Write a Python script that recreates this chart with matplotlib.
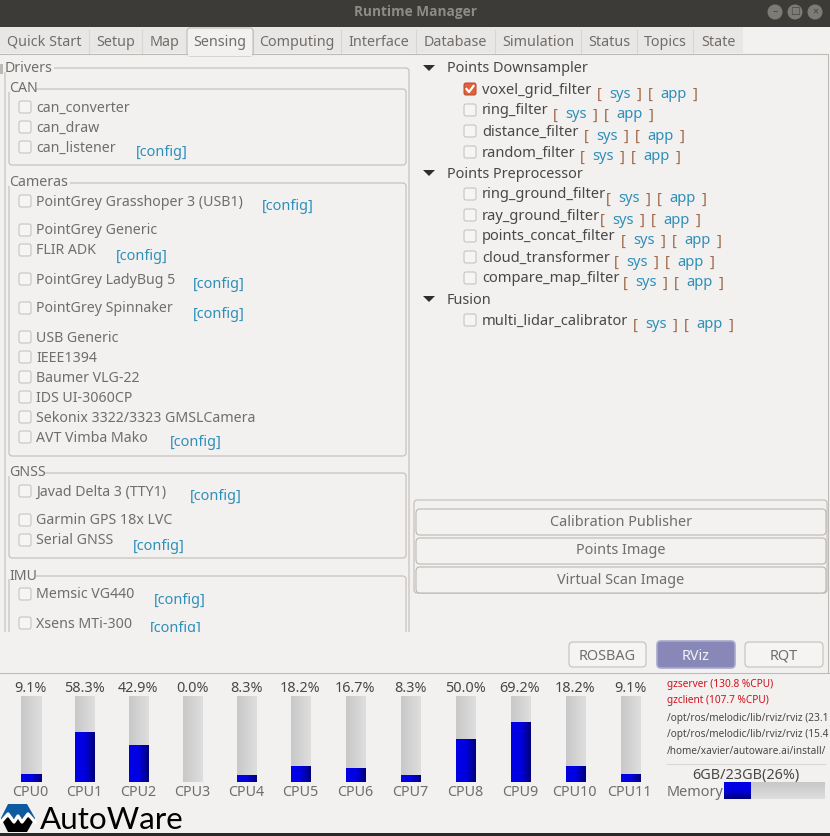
import matplotlib
matplotlib.use('Agg')
import matplotlib.pyplot as plt
from matplotlib.patches import FancyBboxPatch, Rectangle, Polygon, Circle
import numpy as np

W, H = 830, 836
plt.rcParams['font.family'] = ['Noto Sans', 'DejaVu Sans']

BG = '#f2f1f0'
LINE = '#bdb9b5'
GREY = '#716d6a'
DARK = '#4a4846'
BLUE = '#2e8fb8'
BROWN = '#a0694a'

tab_names = ['Quick Start', 'Setup', 'Map', 'Sensing', 'Computing', 'Interface',
             'Database', 'Simulation', 'Status', 'Topics', 'State']
tab_edges = [0, 89, 142, 187, 253, 341, 416, 495, 581, 637, 693, 743]

# label, row y, config x (None if no link)
can_items = [('can_converter', 107, None), ('can_draw', 127, None), ('can_listener', 147, 136)]
camera_items = [('PointGrey Grasshoper 3 (USB1)', 201, 262), ('PointGrey Generic', 230, None),
                ('FLIR ADK', 250, 116), ('PointGrey LadyBug 5', 279, 193),
                ('PointGrey Spinnaker', 308, 193), ('USB Generic', 337, None),
                ('IEEE1394', 357, None), ('Baumer VLG-22', 377, None),
                ('IDS UI-3060CP', 397, None), ('Sekonix 3322/3323 GMSLCamera', 417, None),
                ('AVT Vimba Mako', 437, 170)]
gnss_items = [('Javad Delta 3 (TTY1)', 491, 190), ('Garmin GPS 18x LVC', 520, None),
              ('Serial GNSS', 540, 133)]
imu_items = [('Memsic VG440', 594, 154), ('Xsens MTi-300', 623, 150)]

# label, row y, x of the first bracket
filter_items = [('voxel_grid_filter', 89, 597), ('ring_filter', 110, 553),
                ('distance_filter', 131, 584), ('random_filter', 152, 580),
                ('ring_ground_filter', 194, 606), ('ray_ground_filter', 215, 600),
                ('points_concat_filter', 236, 621), ('cloud_transformer', 257, 614),
                ('compare_map_filter', 278, 623), ('multi_lidar_calibrator', 320, 633)]
tree_heads = [('Points Downsampler', 68), ('Points Preprocessor', 173), ('Fusion', 299)]

cpu_names = ['CPU0', 'CPU1', 'CPU2', 'CPU3', 'CPU4', 'CPU5', 'CPU6', 'CPU7', 'CPU8', 'CPU9', 'CPU10', 'CPU11']
cpu_values = [9.1, 58.3, 42.9, 0.0, 8.3, 18.2, 16.7, 8.3, 50.0, 69.2, 18.2, 9.1]
cpu_x = [31, 85, 139, 193, 247, 301, 356, 411, 466, 521, 576, 631]
memory_value = 26
memory_text = '6GB/23GB(26%)'

proc_lines = ['gzserver (130.8 %CPU)', 'gzclient (107.7 %CPU)',
              '/opt/ros/melodic/lib/rviz/rviz (23.1',
              '/opt/ros/melodic/lib/rviz/rviz (15.4',
              '/home/xavier/autoware.ai/install/']
proc_colors = ['#d0101c', '#d0101c', DARK, DARK, DARK]

fig = plt.figure(figsize=(W / 100, H / 100), dpi=100, facecolor=BG)
ax = fig.add_axes([0, 0, 1, 1])
ax.set_xlim(0, W)
ax.set_ylim(H, 0)
ax.axis('off')


def label(x, y, s, size=10.4, color=GREY, ha='left', z=3, **kw):
    return ax.text(x, y + 2, s, fontsize=size, color=color, ha=ha, va='center', zorder=z, **kw)


def box(x0, y0, x1, y1, fc='none', ec=LINE, lw=0.75, r=3, z=2):
    p = FancyBboxPatch((x0 + r, y0 + r), x1 - x0 - 2 * r, y1 - y0 - 2 * r,
                       boxstyle='round,pad=%d,rounding_size=%d' % (r, r),
                       fc=fc, ec=ec, lw=lw, zorder=z)
    ax.add_patch(p)


def checkbox(x, y, checked=False):
    if checked:
        box(x, y - 6, x + 12, y + 6, fc='#e2603a', ec='#b84f30', r=2)
        ax.plot([x + 2.5, x + 5, x + 9.5], [y, y + 3, y - 3], color='white', lw=1.6, zorder=3)
    else:
        box(x, y - 6, x + 12, y + 6, fc='#f6f5f4', ec='#c4c0bc', r=2)


def group(title, x0, y0, x1, y1, title_x):
    box(x0, y0, x1, y1)
    ax.add_patch(Rectangle((title_x - 1, y0 - 3), len(title) * 8.6 + 2, 6, fc=BG, ec='none', zorder=2.5))
    label(title_x, y0 - 2, title, size=10.2)


def rows(items):
    for name, y, cfg in items:
        checkbox(19, y)
        label(36, y - 1, name, size=10.2)
        if cfg is not None:
            label(cfg, y + 4, '[config]', color=BLUE)


# title bar
ax.add_patch(Rectangle((0, 0), W, 27, fc='#3c3b37', ec='none', zorder=1))
label(415, 10, 'Runtime Manager', size=9.8, color='#8f8c86', ha='center', fontweight='bold', family='Open Sans')
for cx, mark in zip([775, 795, 815], ['–', '□', '×']):
    ax.add_patch(Circle((cx, 12), 7.5, fc='#7d7b76', ec='none', zorder=2))
    label(cx, 9.5, mark, size=7.5, color='#45443f', ha='center')

# tabs
ax.plot([0, 828, 828], [54, 54, 673], color=LINE, lw=0.75, zorder=1)
ax.plot([0, W], [673, 673], color=LINE, lw=0.75, zorder=1)
ax.add_patch(Rectangle((0, 27), 743, 26, fc='#e9e7e5', ec='none', zorder=1))
for i, name in enumerate(tab_names):
    x0, x1 = tab_edges[i], tab_edges[i + 1]
    if name == 'Sensing':
        box(x0, 28, x1, 56, fc=BG, ec=LINE, r=3, z=1.5)
        ax.add_patch(Rectangle((x0 + 1, 50), x1 - x0 - 2, 6, fc=BG, ec='none', zorder=1.6))
    elif i > 0:
        ax.plot([x0, x0], [30, 53], color='#d8d5d2', lw=0.75, zorder=1.2)
    label((x0 + x1) / 2, 40, name, size=10.3, ha='center')

# left pane
box(5, 68, 409, 660, z=1.5)
ax.add_patch(Rectangle((4, 64), 50, 8, fc=BG, ec='none', zorder=1.6))
label(5, 67, 'Drivers', size=10.2)
ax.add_patch(Rectangle((0, 64), 3, 10, fc='#bdb9b5', ec='none', zorder=2))
group('CAN', 9, 89, 406, 165, 9)
group('Cameras', 9, 183, 406, 456, 9)
group('GNSS', 9, 473, 406, 558, 9)
group('IMU', 9, 576, 406, 660, 9)
for items in [can_items, camera_items, gnss_items, imu_items]:
    rows(items)
ax.add_patch(Rectangle((0, 632), 827, 40, fc=BG, ec='none', zorder=4))

# right pane tree
for name, y in tree_heads:
    ax.add_patch(Polygon([(423, y - 3), (435, y - 3), (429, y + 3)], fc='#2e2e2e', ec='none', zorder=3))
    label(447, y - 1, name, color=DARK)
for i, (name, y, bx) in enumerate(filter_items):
    checkbox(464, y, checked=(i == 0))
    label(482, y - 1, name, color=DARK, size=10.55)
    label(bx, y + 3, '[', color=BROWN, size=10.6)
    label(bx + 12, y + 3, 'sys', color=BLUE, size=10.6)
    label(bx + 40, y + 3, ']', color=BROWN, size=10.6)
    label(bx + 51, y + 3, '[', color=BROWN, size=10.6)
    label(bx + 63, y + 3, 'app', color=BLUE, size=10.6)
    label(bx + 96, y + 3, ']', color=BROWN, size=10.6)

# sensing buttons
box(414, 500, 827, 593)
for name, y0 in zip(['Calibration Publisher', 'Points Image', 'Virtual Scan Image'], [509, 538, 567]):
    box(416, y0, 826, y0 + 26, fc='#f3f2f1', ec='#b8b4b0', r=4, z=2.2)
    label(621, y0 + 11, name, ha='center', z=3)

# bottom buttons
for name, x0, x1 in [('ROSBAG', 569, 646), ('RQT', 745, 823)]:
    box(x0, 642, x1, 667, fc='#f5f4f3', ec='#c0bcb8', r=4, z=5)
    label((x0 + x1) / 2, 654, name, ha='center', z=6)
box(657, 641, 735, 668, fc='#8888b8', ec='#a9a9cc', lw=1.2, r=4, z=5)
label(696, 654, 'RViz', color='#f2f2f6', ha='center', z=6)

# cpu bars
cpu_ax = fig.add_axes([0, (H - 782) / H, 1, 86.5 / H])
cpu_ax.set_xlim(0, W)
cpu_ax.set_ylim(0, 100)
cpu_ax.axis('off')
cpu_ax.patch.set_alpha(0)
track_grad = np.linspace(0, 1, 32).reshape(1, -1)
track_cmap = matplotlib.colors.LinearSegmentedColormap.from_list('t', ['#c8c8c8', '#dedede'])
blue_cmap = matplotlib.colors.LinearSegmentedColormap.from_list('b', ['#0000e6', '#0000e0', '#00007a'])


def fill_bars(a, bars, cmap, grad):
    # gradient fill clipped to each bar
    for bar in bars:
        bx, by = bar.get_xy()
        bw, bh = bar.get_width(), bar.get_height()
        if bw == 0 or bh == 0:
            continue
        im = a.imshow(grad, extent=(bx, bx + bw, by, by + bh), aspect='auto', cmap=cmap, zorder=bar.get_zorder() + 0.5)
        im.set_clip_path(bar)


track_bars = cpu_ax.bar(cpu_x, [100] * 12, width=20, color='#d4d4d4', zorder=1)
value_bars = cpu_ax.bar(cpu_x, cpu_values, width=20, color='#0000c0', zorder=2)
fill_bars(cpu_ax, track_bars, track_cmap, track_grad)
fill_bars(cpu_ax, value_bars, blue_cmap, track_grad)
cpu_ax.set_xlim(0, W)
cpu_ax.set_ylim(0, 100)

for x, v, name in zip(cpu_x, cpu_values, cpu_names):
    label(x - 1, 686, '%.1f%%' % v, color=DARK, ha='center')
    label(x - 1 if len(name) == 4 else x - 2, 790, name, size=10.3, ha='center')

# process list
for i, (s, c) in enumerate(zip(proc_lines, proc_colors)):
    label(667, 682 + 17 * i, s, size=7.25, color=c)
ax.plot([667, 825], [764, 764], color='#d8d5d2', lw=0.75, zorder=2)
label(746, 773, memory_text, color=DARK, ha='center')
label(667, 790, 'Memory')

# memory bar
mem_ax = fig.add_axes([724 / W, (H - 799) / H, 101 / W, 17 / H])
mem_ax.set_xlim(0, 100)
mem_ax.set_ylim(0, 1)
mem_ax.axis('off')
mem_track = mem_ax.barh([0.5], [100], height=1, color='#d4d4d4', zorder=1)
mem_val = mem_ax.barh([0.5], [memory_value], height=1, color='#0000c0', zorder=2)
vert = np.linspace(0, 1, 32).reshape(-1, 1)
fill_bars(mem_ax, mem_track, track_cmap, vert)
fill_bars(mem_ax, mem_val, blue_cmap, vert)
mem_ax.set_xlim(0, 100)
mem_ax.set_ylim(0, 1)

# logo
ax.add_patch(Polygon([(1, 818), (8, 804), (27, 804), (35, 818)], fc='#0b5b9e', ec='none', zorder=3))
ax.add_patch(Polygon([(1, 818), (35, 818), (27, 832), (8, 832)], fc='#000000', ec='none', zorder=3))
ax.plot([1, 8, 14, 18, 22, 28, 35], [822, 814, 822, 816, 822, 814, 822], color='white', lw=2.4, zorder=4)
label(40, 818, 'AutoWare', size=22.6, color='#000000', z=4, family='Lato')

# dark strip under the window
ax.add_patch(Rectangle((0, 833), W, 3, fc='#2a2826', ec='none', zorder=7))

fig.savefig('out.png', dpi=100, facecolor=BG)
